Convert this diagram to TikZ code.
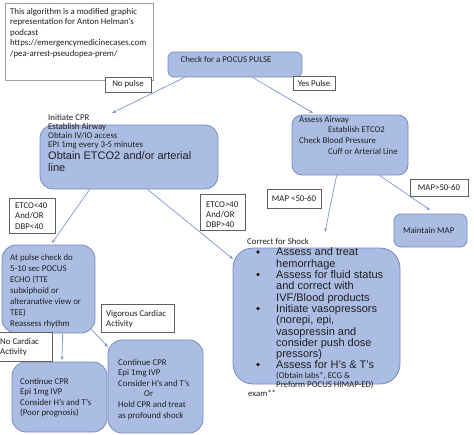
\documentclass[tikz,border=0pt]{standalone}
\usepackage{fontspec}
\setmainfont{Carlito}
\newfontfamily\arialf{Liberation Sans}
\usetikzlibrary{arrows.meta,calc}
\definecolor{fillblue}{RGB}{172,189,228}
\definecolor{edgeblue}{RGB}{118,140,192}
\definecolor{lineblue}{RGB}{128,148,200}
\definecolor{lblgray}{RGB}{95,95,95}
\definecolor{txtc}{RGB}{30,30,30}
\newcommand\mlines[1]{\begin{tabular}[t]{@{}l@{}}#1\end{tabular}}
\begin{document}
\begin{tikzpicture}[x=1pt,y=-1pt,
  bluebox/.style={draw=edgeblue,fill=fillblue,line width=0.8pt,rounded corners=#1,inner sep=0pt},
  bluebox/.default=12pt,
  lblbox/.style={draw=lblgray,fill=white,line width=0.6pt,inner sep=0pt},
  notebox/.style={draw=gray!75,fill=white,line width=1pt,inner sep=0pt},
  arr/.style={draw=lineblue,line width=0.7pt,-{Stealth[length=4pt,width=3.2pt]}},
  txt/.style={inner sep=0pt,text=txtc,anchor=base west},
  stxt/.style={txt,font=\fontsize{8.8}{#1}\selectfont},
  stxt/.default=10.5,
  btxt/.style={txt,font=\arialf\fontsize{11}{#1}\selectfont},
  btxt/.default=11.2,
  ctxt/.style={inner sep=0pt,text=txtc,font=\fontsize{8.8}{10.5}\selectfont},
  dot/.style={circle,fill=txtc,inner sep=0pt,minimum size=3.6pt}]
\useasboundingbox (0,0) rectangle (474,434);

% ---------- boxes ----------
\node[notebox,minimum width=148pt,minimum height=77pt] (note) at (79,41.5) {};
\node[bluebox=6pt,minimum width=134pt,minimum height=25pt] (pulse) at (235,64.5) {};
\node[bluebox=10pt,minimum width=116pt,minimum height=60pt] (assess) at (350,145) {};
\node[bluebox=13pt,minimum width=178pt,minimum height=64pt] (cpr) at (129,157) {};
\node[bluebox=7pt,minimum width=73pt,minimum height=33pt] (maintain) at (430.5,230.5) {};
\node[bluebox=20pt,minimum width=167pt,minimum height=136pt] (shock) at (316.5,316) {};
\node[bluebox=14pt,minimum width=93pt,minimum height=88pt] (echo) at (48.5,289) {};
\node[bluebox=14pt,minimum width=95pt,minimum height=70pt] (cont1) at (59.5,397) {};
\node[bluebox=14pt,minimum width=95pt,minimum height=93pt] (cont2) at (155.5,386.5) {};

% ---------- connectors ----------
\coordinate (t1) at (112,113);
\coordinate (t2) at (313,113);
\coordinate (t3) at (52,243);
\coordinate (t4) at (233,259);
\coordinate (t5) at (325,232);
\coordinate (t6) at (430,210);
\coordinate (t7) at (62,360);
\coordinate (t8) at (108,347);
\draw[arr] ([xshift=17pt]pulse.south west) -- (t1);
\draw[arr] ([xshift=85pt]pulse.south west) -- (t2);
\draw[arr] ([xshift=50pt]cpr.south west) -- (t3);
\draw[arr] ([xshift=108pt]cpr.south west) -- (t4);
\draw[arr] ([xshift=45pt]assess.south west) -- (t5);
\draw[arr] ([xshift=88pt]assess.south west) -- (t6);
\draw[arr] ([xshift=61pt]echo.south west) -- (t7);
\draw[arr] ($(echo.south east)+(-4,-4)$) -- (t8);

% ---------- label boxes ----------
\node[lblbox,minimum width=46pt,minimum height=15pt] (nopulse) at (128,84.5) {};
\node[lblbox,minimum width=42pt,minimum height=14pt] (yespulse) at (314,83) {};
\node[lblbox,minimum width=46pt,minimum height=35pt] (etcolt) at (32,215.5) {};
\node[lblbox,minimum width=45pt,minimum height=36pt] (etcogt) at (222.5,212) {};
\node[lblbox,minimum width=54pt,minimum height=19pt] (maplt) at (294,198.5) {};
\node[lblbox,minimum width=58pt,minimum height=17pt] (mapgt) at (439,187.5) {};
\node[lblbox,minimum width=54pt,minimum height=29pt] (nocard) at (25,346.5) {};
\node[lblbox,minimum width=73pt,minimum height=28pt] (vigor) at (137.5,318) {};

% ---------- texts ----------
\node[stxt] (notetxt) at (10,14) {\mlines{This algorithm is a modified graphic\\representation for Anton Helman’s\\podcast\\https://emergencymedicinecases.com\\/pea-arrest-pseudopea-prem/}};
\node[ctxt] (nopulsetxt) at (nopulse) {No pulse};
\node[ctxt] (pulsetxt) at (226,59.5) {Check for a POCUS PULSE};
\node[ctxt] (yespulsetxt) at (yespulse) {Yes Pulse};
\node[stxt=10.7] (assesstxt) at (299,122) {\mlines{Assess Airway\\\hspace{29pt}Establish ETCO2\\Check Blood Pressure\\\hspace{29pt}Cuff or Arterial Line}};
\node[stxt=9.3] (cprtxt) at (48,120) {\mlines{Initiate CPR\\Establish Airway\\Obtain IV/IO access\\EPI 1mg every 3-5 minutes}};
\node[btxt=12] (cprbig) at (48,159) {\mlines{Obtain ETCO2 and/or arterial\\line}};
\node[stxt] (etcolttxt) at (15,208) {\mlines{ETCO<40\\And/OR\\DBP<40}};
\node[stxt=10] (etcogttxt) at (206,207) {\mlines{ETCO>40\\And/OR\\DBP>40}};
\node[ctxt] (mapltxt) at (maplt) {MAP <50-60};
\node[ctxt] (mapgtxt) at (mapgt) {MAP>50-60};
\node[ctxt,anchor=west] (maintaintxt) at (403,231) {Maintain MAP};
\node[stxt] (shocklbl) at (247,244) {Correct for Shock};
\node[btxt] (shocktxt) at (276,255.7) {\mlines{Assess and treat\\hemorrhage\\Assess for fluid status\\and correct with\\IVF/Blood products\\Initiate vasopressors\\(norepi, epi,\\vasopressin and\\consider push dose\\pressors)\\Assess for H’s \& T’s}};
\node[stxt=9.5] (shocksmall) at (276,378) {\mlines{(Obtain labs*, ECG \&\\Preform POCUS HIMAP-ED)}};
\node[stxt] (examtxt) at (248,396) {exam**};
\node[dot] (b1) at (258,252) {};
\node[dot] (b2) at (258,274.5) {};
\node[dot] (b3) at (258,308.5) {};
\node[dot] (b4) at (258,364.5) {};
\node[stxt=11] (echotxt) at (10,260) {\mlines{At pulse check do\\5-10 sec POCUS\\ECHO (TTE\\subxiphoid or\\alteranative view or\\TEE)\\Reassess rhythm}};
\node[stxt] (nocardtxt) at (0,344) {\mlines{No Cardiac\\Activity}};
\node[stxt] (vigortxt) at (106,316) {\mlines{Vigorous Cardiac\\Activity}};
\node[stxt=10.6] (cont1txt) at (20,384) {\mlines{Continue CPR\\Epi 1mg IVP\\Consider H’s and T’s\\(Poor prognosis)}};
\node[stxt=10.6] (cont2txt) at (118,365) {\mlines{Continue CPR\\Epi 1mg IVP\\Consider H’s and T’s\\\hspace{26pt}Or\\Hold CPR and treat\\as profound shock}};
\end{tikzpicture}
\end{document}
